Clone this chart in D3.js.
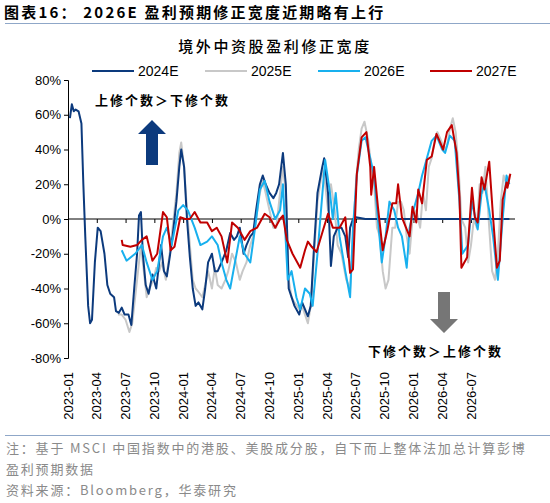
<!DOCTYPE html>
<html><head><meta charset="utf-8">
<script src="https://cdn.jsdelivr.net/npm/d3@7"></script>
<style>body{margin:0;background:#fff}svg{display:block}</style>
</head><body><svg id="c" width="550" height="503"></svg>
<script>
// month offsets from 2023-01 and values (%)
const s2024_m=[0.2,0.4,0.6,0.8,1.1,1.4,1.6,1.8,2.1,2.3,2.5,2.8,3.1,3.4,3.8,4.1,4.4,4.8,5.0,5.3,5.6,5.9,6.3,6.6,6.9,7.2,7.4,7.6,7.8,8.1,8.4,8.8,9.2,9.5,9.7,10.0,10.3,10.6,10.9,11.3,11.6,11.8,12.1,12.4,12.7,13.0,13.3,13.6,14.0,14.3,14.6,15.0,15.3,15.6,16.0,16.5,16.9,17.3,17.6,17.9,18.3,18.6,19.0,19.3,19.6,20.0,20.3,20.6,21.0,21.4,21.7,22.0,22.4,22.7,23.0,23.3,23.6,24.1,24.4,24.7,25.0,25.3,25.6,26.0,26.5,26.7,27.1,27.4,27.7,28.1,28.5,28.9,29.2,29.4,29.7,30.0,31,35,40,45,46.0];
const s2024_v=[58,66,62,63,62,55,20,-10,-50,-60,-58,-25,-5,-7,-20,-38,-43,-45,-53,-54,-51,-55,-55,-61,-40,-20,2,4,-20,-38,-43,-32,-40,-25,-15,-30,-33,-22,-10,10,30,40,30,0,-22,-40,-50,-48,-52,-40,-25,-20,-30,-30,-25,-18,-8,-12,-10,-5,-20,-15,-10,-8,5,20,25,20,15,12,15,20,38,20,-40,-45,-50,-55,-48,-52,-56,-50,-20,15,30,35,15,-27,-10,-5,-5,-10,-22,-5,0,1,0,0,0,0,0];
const s2025_m=[5.2,5.6,6.0,6.4,6.7,7.0,7.3,7.6,7.9,8.2,8.5,8.9,9.2,9.5,9.8,10.2,10.6,10.9,11.3,11.6,11.8,12.1,12.4,12.7,13.0,13.3,13.6,14.0,14.3,14.6,15.0,15.3,15.6,16.0,16.4,16.7,17.1,17.5,17.9,18.2,18.6,19.0,19.3,19.6,20.0,20.3,20.6,21.0,21.4,21.7,22.0,22.4,22.7,23.0,23.3,23.6,24.1,24.4,24.7,25.0,25.3,25.6,26.0,26.5,26.8,27.1,27.4,27.8,28.1,28.5,29.0,29.4,29.7,30.0,30.3,30.6,30.9,31.3,31.6,31.9,32.2,32.5,32.8,33.1,33.4,33.8,34.1,34.4,34.7,35.0,35.3,35.6,35.9,36.3,36.7,37.0,37.3,37.6,37.9,38.2,38.5,38.9,39.2,39.5,39.8,40.1,40.4,40.7,41.0,41.4,41.7,42.0,42.3,42.6,42.9,43.2,43.5,43.9,44.2,44.5,44.8,45.1,45.4,45.7,46.0];
const s2025_v=[-55,-55,-58,-65,-60,-45,-30,-15,-30,-45,-40,-35,-28,-30,-25,-35,-20,-5,15,38,44,30,5,-15,-35,-40,-42,-45,-38,-30,-40,-28,-38,-40,-35,-30,-20,-25,-35,-30,-25,-15,-10,0,15,22,15,5,-5,-5,10,30,15,-35,-45,-48,-52,-50,-55,-60,-50,-25,10,28,20,5,20,5,-15,-20,-35,-40,-10,20,40,52,56,45,30,20,-5,-10,-30,-40,-35,-5,-5,10,10,5,-10,-20,0,5,-5,15,5,30,35,45,50,45,40,42,52,58,50,30,0,-5,-25,-15,0,-5,20,15,30,-5,-30,-35,-20,10,25,20,25];
const s2026_m=[5.6,6.1,7.0,7.7,8.2,8.8,9.3,9.9,10.3,10.8,11.5,12.0,12.5,13.2,13.8,14.5,15.0,15.6,16.0,16.5,16.9,17.4,17.9,18.4,19.0,19.5,20.0,20.5,21.0,21.6,22.1,22.4,22.9,23.3,23.8,24.2,24.7,25.2,25.5,26.0,26.8,27.3,27.6,27.9,28.3,28.9,29.4,29.7,30.1,30.6,31.0,31.5,31.9,32.3,32.7,33.1,33.5,34.0,34.4,34.8,35.3,35.6,36.0,36.5,36.9,37.4,37.9,38.4,39.0,39.3,39.8,40.3,40.8,41.1,41.7,42.1,42.7,43.1,43.4,43.9,44.3,44.7,44.8,45.3,45.7,46.0];
const s2026_v=[-18,-24,-20,-15,-25,-35,-30,-10,-5,-15,5,8,5,-5,-15,-13,-10,-15,-25,-35,-40,-25,-10,-20,-25,-5,17,22,10,0,5,20,-35,-30,-45,-52,-40,-43,-50,-20,34,15,0,15,-10,-30,-45,-5,25,45,47,35,25,0,-25,-10,10,5,-5,-10,-28,-5,5,15,25,35,45,48,40,38,48,45,10,-20,-15,10,-6,15,20,5,-10,-30,-35,0,25,20];
const s2027_m=[5.6,5.7,6.5,7.2,7.7,8.2,8.8,9.3,9.9,10.3,10.7,11.1,11.7,12.2,12.7,13.2,13.8,14.5,15.0,15.5,16.0,16.6,17.1,17.7,18.4,19.0,19.7,20.5,21.0,21.6,22.1,22.4,22.8,23.4,24.2,24.7,25.0,25.4,25.9,26.6,27.1,27.6,28.3,28.9,29.4,29.7,30.1,30.6,31.1,31.5,31.6,31.9,32.3,32.8,33.3,33.8,34.2,34.4,34.8,35.3,35.6,35.9,36.3,36.5,36.9,37.4,37.9,38.4,39.1,39.5,40.0,40.5,40.8,41.0,41.6,42.1,42.4,42.7,43.1,43.4,43.9,44.3,44.7,45.0,45.3,45.7,45.8,46.1];
const s2027_v=[-12,-15,-16,-15,-12,-10,-24,-20,4,1,-18,-16,1,0,0,4,-2,-2,-7,-5,-10,-25,-2,-5,-12,-7,-5,3,1,-5,0,2,-12,-20,-28,-18,-13,-16,-19,-6,3,-5,-5,1,-31,-29,26,47,50,30,14,30,7,-18,-6,9,9,20,1,-6,-10,7,-2,17,9,34,36,49,40,50,54,38,13,-28,-22,18,1,-2,24,17,33,1,-28,-24,11,21,18,26];
const seriesNames=["2024E","2025E","2026E","2027E"];
const seriesColors=["#0c3a7d","#c8c8c8","#18b0ee","#c00000"];
const xTickLabels=["2023-01","2023-04","2023-07","2023-10","2024-01","2024-04","2024-07","2024-10","2025-01","2025-04","2025-07","2025-10","2026-01","2026-04","2026-07"];
const yTicks=[-80,-60,-40,-20,0,20,40,60,80];

const svg=d3.select("#c");
const F="'Liberation Sans',Arial,sans-serif", CJK="'Noto Sans CJK SC',sans-serif";
const x=d3.scaleLinear().domain([0,42]).range([68,471]);
const y=d3.scaleLinear().domain([-80,80]).range([358,80]);

svg.append("text").attr("x",4).attr("y",18).attr("font-family",CJK).attr("font-weight","bold").attr("font-size",15).attr("letter-spacing",2.2).text("图表16：  2026E 盈利预期修正宽度近期略有上行");
svg.append("line").attr("x1",5).attr("x2",550).attr("y1",23.5).attr("y2",23.5).attr("stroke","#8fa7c8").attr("stroke-width",1);
svg.append("text").attr("x",275).attr("y",52).attr("text-anchor","middle").attr("font-family",CJK).attr("font-size",15).attr("letter-spacing",2.6).attr("font-weight","500").text("境外中资股盈利修正宽度");

const ya=svg.append("g").attr("transform","translate(68,0)").call(d3.axisLeft(y).tickValues(yTicks).tickSize(4).tickFormat(d=>d+"%"));
ya.select(".domain").attr("stroke","#000");
ya.selectAll("text").attr("font-family",F).attr("font-size",13).attr("fill","#000");
const xa=svg.append("g").attr("transform",`translate(0,${y(0)})`).call(d3.axisBottom(x).tickValues(d3.range(0,43,3)).tickSize(4).tickFormat(""));
xa.select(".domain").attr("d",`M68,0H515`).attr("stroke","#000");
svg.append("g").selectAll("text").data(xTickLabels).join("text")
 .attr("transform",(d,i)=>`translate(${x(i*3)+4.5},372) rotate(-90)`).attr("text-anchor","end")
 .attr("font-family",F).attr("font-size",13).text(d=>d);

const line=d3.line().x(d=>x(d[0])).y(d=>y(d[1])).curve(d3.curveLinear);
const data=[[s2024_m,s2024_v],[s2025_m,s2025_v],[s2026_m,s2026_v],[s2027_m,s2027_v]];
[1,0,2,3].forEach(i=>{
  const pts=data[i][0].map((m,j)=>[m,data[i][1][j]]);
  svg.append("path").attr("d",line(pts)).attr("fill","none").attr("stroke",seriesColors[i]).attr("stroke-width",2).attr("stroke-linejoin","round");
});

const lx=[92,205,318,430];
seriesNames.forEach((n,i)=>{
  svg.append("line").attr("x1",lx[i]).attr("x2",lx[i]+42).attr("y1",71).attr("y2",71).attr("stroke",seriesColors[i]).attr("stroke-width",2);
  svg.append("text").attr("x",lx[i]+46).attr("y",76).attr("font-family",F).attr("font-size",14).text(n);
});

svg.append("text").attr("x",95).attr("y",105).attr("font-family",CJK).attr("font-size",13).attr("letter-spacing",2).attr("font-weight","bold").text("上修个数＞下修个数");
svg.append("path").attr("d","M152,120 L166,134 L158,134 L158,165 L146,165 L146,134 L138,134 Z").attr("fill","#0c3a7d");
svg.append("path").attr("d","M438,292 L450,292 L450,319 L458,319 L444,333 L430,319 L438,319 Z").attr("fill","#767676");
svg.append("text").attr("x",368).attr("y",356).attr("font-family",CJK).attr("font-size",13).attr("letter-spacing",2).attr("font-weight","bold").text("下修个数＞上修个数");

svg.append("line").attr("x1",5).attr("x2",550).attr("y1",435.5).attr("y2",435.5).attr("stroke","#8fa7c8");
const notes=["注：基于 MSCI 中国指数中的港股、美股成分股，自下而上整体法加总计算彭博","盈利预期数据","资料来源：Bloomberg，华泰研究"];
notes.forEach((t,i)=>svg.append("text").attr("x",6).attr("y",453+i*21).attr("font-family",CJK).attr("font-size",13).attr("letter-spacing",1.8).attr("fill","#8a8a8a").text(t));
</script></body></html>
